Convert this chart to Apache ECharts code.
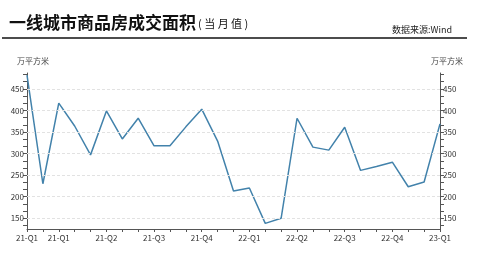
<!DOCTYPE html>
<html><head><meta charset="utf-8">
<script src="https://cdn.jsdelivr.net/npm/echarts@6/dist/echarts.min.js"></script>
<style>html,body{margin:0;padding:0;background:#fff}#c{width:484px;height:255px}</style>
</head><body><div id="c"></div>
<script>
var categories = ['21-Q1','','21-Q1','','','21-Q2','','','21-Q3','','','21-Q4','','','22-Q1','','','22-Q2','','','22-Q3','','','22-Q4','','','23-Q1'];
var values = [482,230,417,364,297,399,334,382,318,318,362,403,329,213,220,138,150,382,315,308,361,261,270,280,223,234,369];
var yLabels = [150,200,250,300,350,400,450];
var yTicks = [133.3,150,166.7,183.3,200,216.7,233.3,250,266.7,283.3,300,316.7,333.3,350,366.7,383.3,400,416.7,433.3,450,466.7,483.3];
var yMin = 125, yMax = 487;

var font = '"Noto Sans CJK SC","Noto Sans",sans-serif';
var chart = echarts.init(document.getElementById('c'));
var yAxisBase = function(pos){
  return {
    type:'value', position:pos, min:yMin, max:yMax,
    axisLine:{show:true,lineStyle:{color:'#555',width:1}},
    axisTick:{show:true,length:4,customValues:yTicks,lineStyle:{color:'#555'}},
    axisLabel:{customValues:yLabels,fontSize:8,color:'#333',margin:3,fontFamily:font},
    splitLine:{show:false}
  };
};
chart.setOption({
  animation:false,
  title:[
    {text:'{a|一线城市商品房成交面积}{b|( 当 月 值 )}',left:4,top:9,
     textStyle:{rich:{a:{fontSize:17,fontWeight:'bold',color:'#111',fontFamily:font},b:{fontSize:11,fontWeight:'normal',color:'#111',fontFamily:font,padding:[3,0,0,2]}}}},
    {text:'数据来源:Wind',right:27,top:20,textStyle:{fontSize:9,fontWeight:'normal',color:'#222',fontFamily:font}},
    {text:'万平方米',left:12,top:52,textStyle:{fontSize:8,fontWeight:'normal',color:'#444',fontFamily:font}},
    {text:'万平方米',left:426,top:52,textStyle:{fontSize:8,fontWeight:'normal',color:'#444',fontFamily:font}}
  ],
  graphic:[{type:'line',shape:{x1:2,y1:38,x2:467,y2:38},style:{stroke:'#111',lineWidth:1.5}}],
  grid:{left:27,right:44,top:73,bottom:26},
  xAxis:{type:'category',data:categories,boundaryGap:false,
    axisLine:{lineStyle:{color:'#555'}},
    axisTick:{interval:0,length:3,lineStyle:{color:'#555'}},
    axisLabel:{interval:0,fontSize:8,color:'#333',margin:5,fontFamily:font}},
  yAxis:[yAxisBase('left'),yAxisBase('right')],
  series:[{type:'line',data:values,symbol:'none',yAxisIndex:0,
    lineStyle:{color:'#4282ab',width:1.5},
    markLine:{silent:true,symbol:'none',label:{show:false},
      lineStyle:{color:'#e2e2e2',type:[3,2],width:1},
      data:yLabels.map(function(v){return {yAxis:v};})}}]
});
</script></body></html>
